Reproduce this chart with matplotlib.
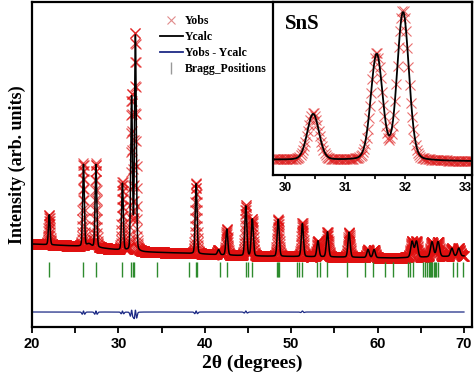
import matplotlib.pyplot as plt
import numpy as np
from matplotlib.lines import Line2D

# background knots (2theta, intensity)
bg_pos = [20, 25, 28, 30, 33, 37, 45, 55, 62, 70]
bg_val = [83, 81, 79, 77, 75, 74, 71, 70, 69, 71]

# peaks: position, observed height, calculated height, fwhm
pk_pos = [22.00, 25.96, 26.6, 27.40, 30.47, 31.53, 31.97, 39.00, 41.6, 42.55,
          44.75, 45.50, 48.50, 51.30, 53.10, 54.20, 56.70, 58.90, 59.60,
          64.00, 64.50, 66.30, 67.00, 68.60, 69.40]
pk_obs = [30, 83, 3, 84, 68, 156, 218, 71, 5, 26,
          51, 37, 37, 34, 16, 25, 25, 8, 8,
          16, 16, 15, 15, 8, 8]
pk_calc = [30, 82, 3, 83, 67, 154, 216, 70, 5, 26,
           50, 37, 37, 33, 16, 25, 25, 8, 8,
           16, 16, 15, 15, 8, 8]
pk_fwhm = [0.22, 0.22, 0.6, 0.22, 0.22, 0.22, 0.22, 0.24, 0.3, 0.26,
           0.26, 0.28, 0.28, 0.28, 0.3, 0.3, 0.3, 0.32, 0.32,
           0.38, 0.38, 0.4, 0.4, 0.36, 0.36]
# small misfit in calculated widths
calc_fwhm = [0.22, 0.23, 0.6, 0.23, 0.23, 0.23, 0.23, 0.25, 0.3, 0.26,
             0.27, 0.28, 0.28, 0.29, 0.3, 0.3, 0.3, 0.32, 0.32,
             0.38, 0.38, 0.4, 0.4, 0.36, 0.36]

bragg = [21.97, 25.94, 27.37, 30.45, 31.46, 31.65, 31.84, 34.43, 38.21, 38.94,
         39.14, 41.76, 42.61, 44.73, 45.0, 45.42, 48.32, 48.51, 48.63, 50.63,
         50.94, 51.21, 53.02, 53.33, 54.1, 56.42, 58.54, 59.51, 60.86, 61.74,
         63.48, 63.75, 64.14, 65.22, 65.49, 65.75, 65.9, 66.05, 66.2, 66.35,
         66.5, 66.65, 66.8, 67.0, 68.69, 69.15, 69.85]

tt = np.arange(20, 70.001, 0.02)


def profile(x, heights, widths):
    y = np.interp(x, bg_pos, bg_val)
    for p, h, w in zip(pk_pos, heights, widths):
        d = (x - p) / w
        g = np.exp(-4 * np.log(2) * d**2)
        lo = 1 / (1 + 4 * d**2)
        y = y + h * (0.85 * g + 0.15 * lo)
    return y


yobs = profile(tt, pk_obs, pk_fwhm)
ycalc = profile(tt, pk_calc, calc_fwhm)

fig = plt.figure(figsize=(4.74, 3.76), dpi=100)
ax = fig.add_axes([32/474, 49/376, 440/474, 325/376])

ax.plot(tt, yobs, ls='none', marker='x', ms=7, mew=0.9, color='#e01010', alpha=0.7)
ax.plot(tt, ycalc, color='black', lw=1.1)
ax.plot(tt, yobs - ycalc + 15, color='#1c2a85', lw=0.9)
ax.vlines(bragg, 50, 65, color='#2e8b2e', lw=1)

ax.set_xlim(20, 70.93)
ax.set_ylim(0, 325)
ax.set_yticks([])
ax.set_xticks([20, 30, 40, 50, 60, 70])
ax.set_xticks([25, 35, 45, 55, 65], minor=True)
ax.tick_params(axis='x', which='both', direction='out', length=4, width=1.3)
for lab in ax.get_xticklabels():
    lab.set_family('Liberation Sans')
    lab.set_weight('bold')
    lab.set_fontsize(10.5)
for s in ax.spines.values():
    s.set_linewidth(1.6)
ax.set_xlabel('2θ (degrees)', family='Liberation Serif', weight='bold', fontsize=14, labelpad=2)
ax.set_ylabel('Intensity (arb. units)', family='Liberation Serif', weight='bold', fontsize=13, labelpad=4)

handles = [Line2D([], [], ls='none', marker='x', ms=6, mew=0.8, color='#e08a8a'),
           Line2D([], [], color='black', lw=1.3),
           Line2D([], [], color='#1c2a85', lw=1.3),
           Line2D([], [], ls='none', marker='|', ms=8, color='#999999')]
ax.legend(handles, ['Yobs', 'Ycalc', 'Yobs - Ycalc', 'Bragg_Positions'],
          loc='upper left', bbox_to_anchor=(0.27, 0.99), frameon=False,
          prop={'family': 'Liberation Serif', 'weight': 'bold', 'size': 8.5},
          handlelength=1.9, handletextpad=0.2, labelspacing=0.35, borderpad=0.3)

# inset
ins = fig.add_axes([273/474, 201/376, 199/474, 173/376])
ins.plot(tt, yobs, ls='none', marker='x', ms=7, mew=0.8, color='#dd1f1f', alpha=0.65)
ins.plot(tt, ycalc, color='black', lw=1.3)
ins.set_xlim(29.8, 33.12)
ins.set_ylim(55, 307)
ins.set_yticks([])
ins.set_xticks([30, 31, 32, 33])
ins.set_xticks([30.5, 31.5, 32.5], minor=True)
ins.tick_params(axis='x', which='both', direction='out', length=3, width=1.2, pad=2)
for lab in ins.get_xticklabels():
    lab.set_family('Liberation Sans')
    lab.set_weight('bold')
    lab.set_fontsize(8.5)
for s in ins.spines.values():
    s.set_linewidth(1.6)
ins.text(0.06, 0.93, 'SnS', transform=ins.transAxes, ha='left', va='top',
         family='Liberation Serif', weight='bold', fontsize=15)

fig.savefig('out.png', dpi=100)
